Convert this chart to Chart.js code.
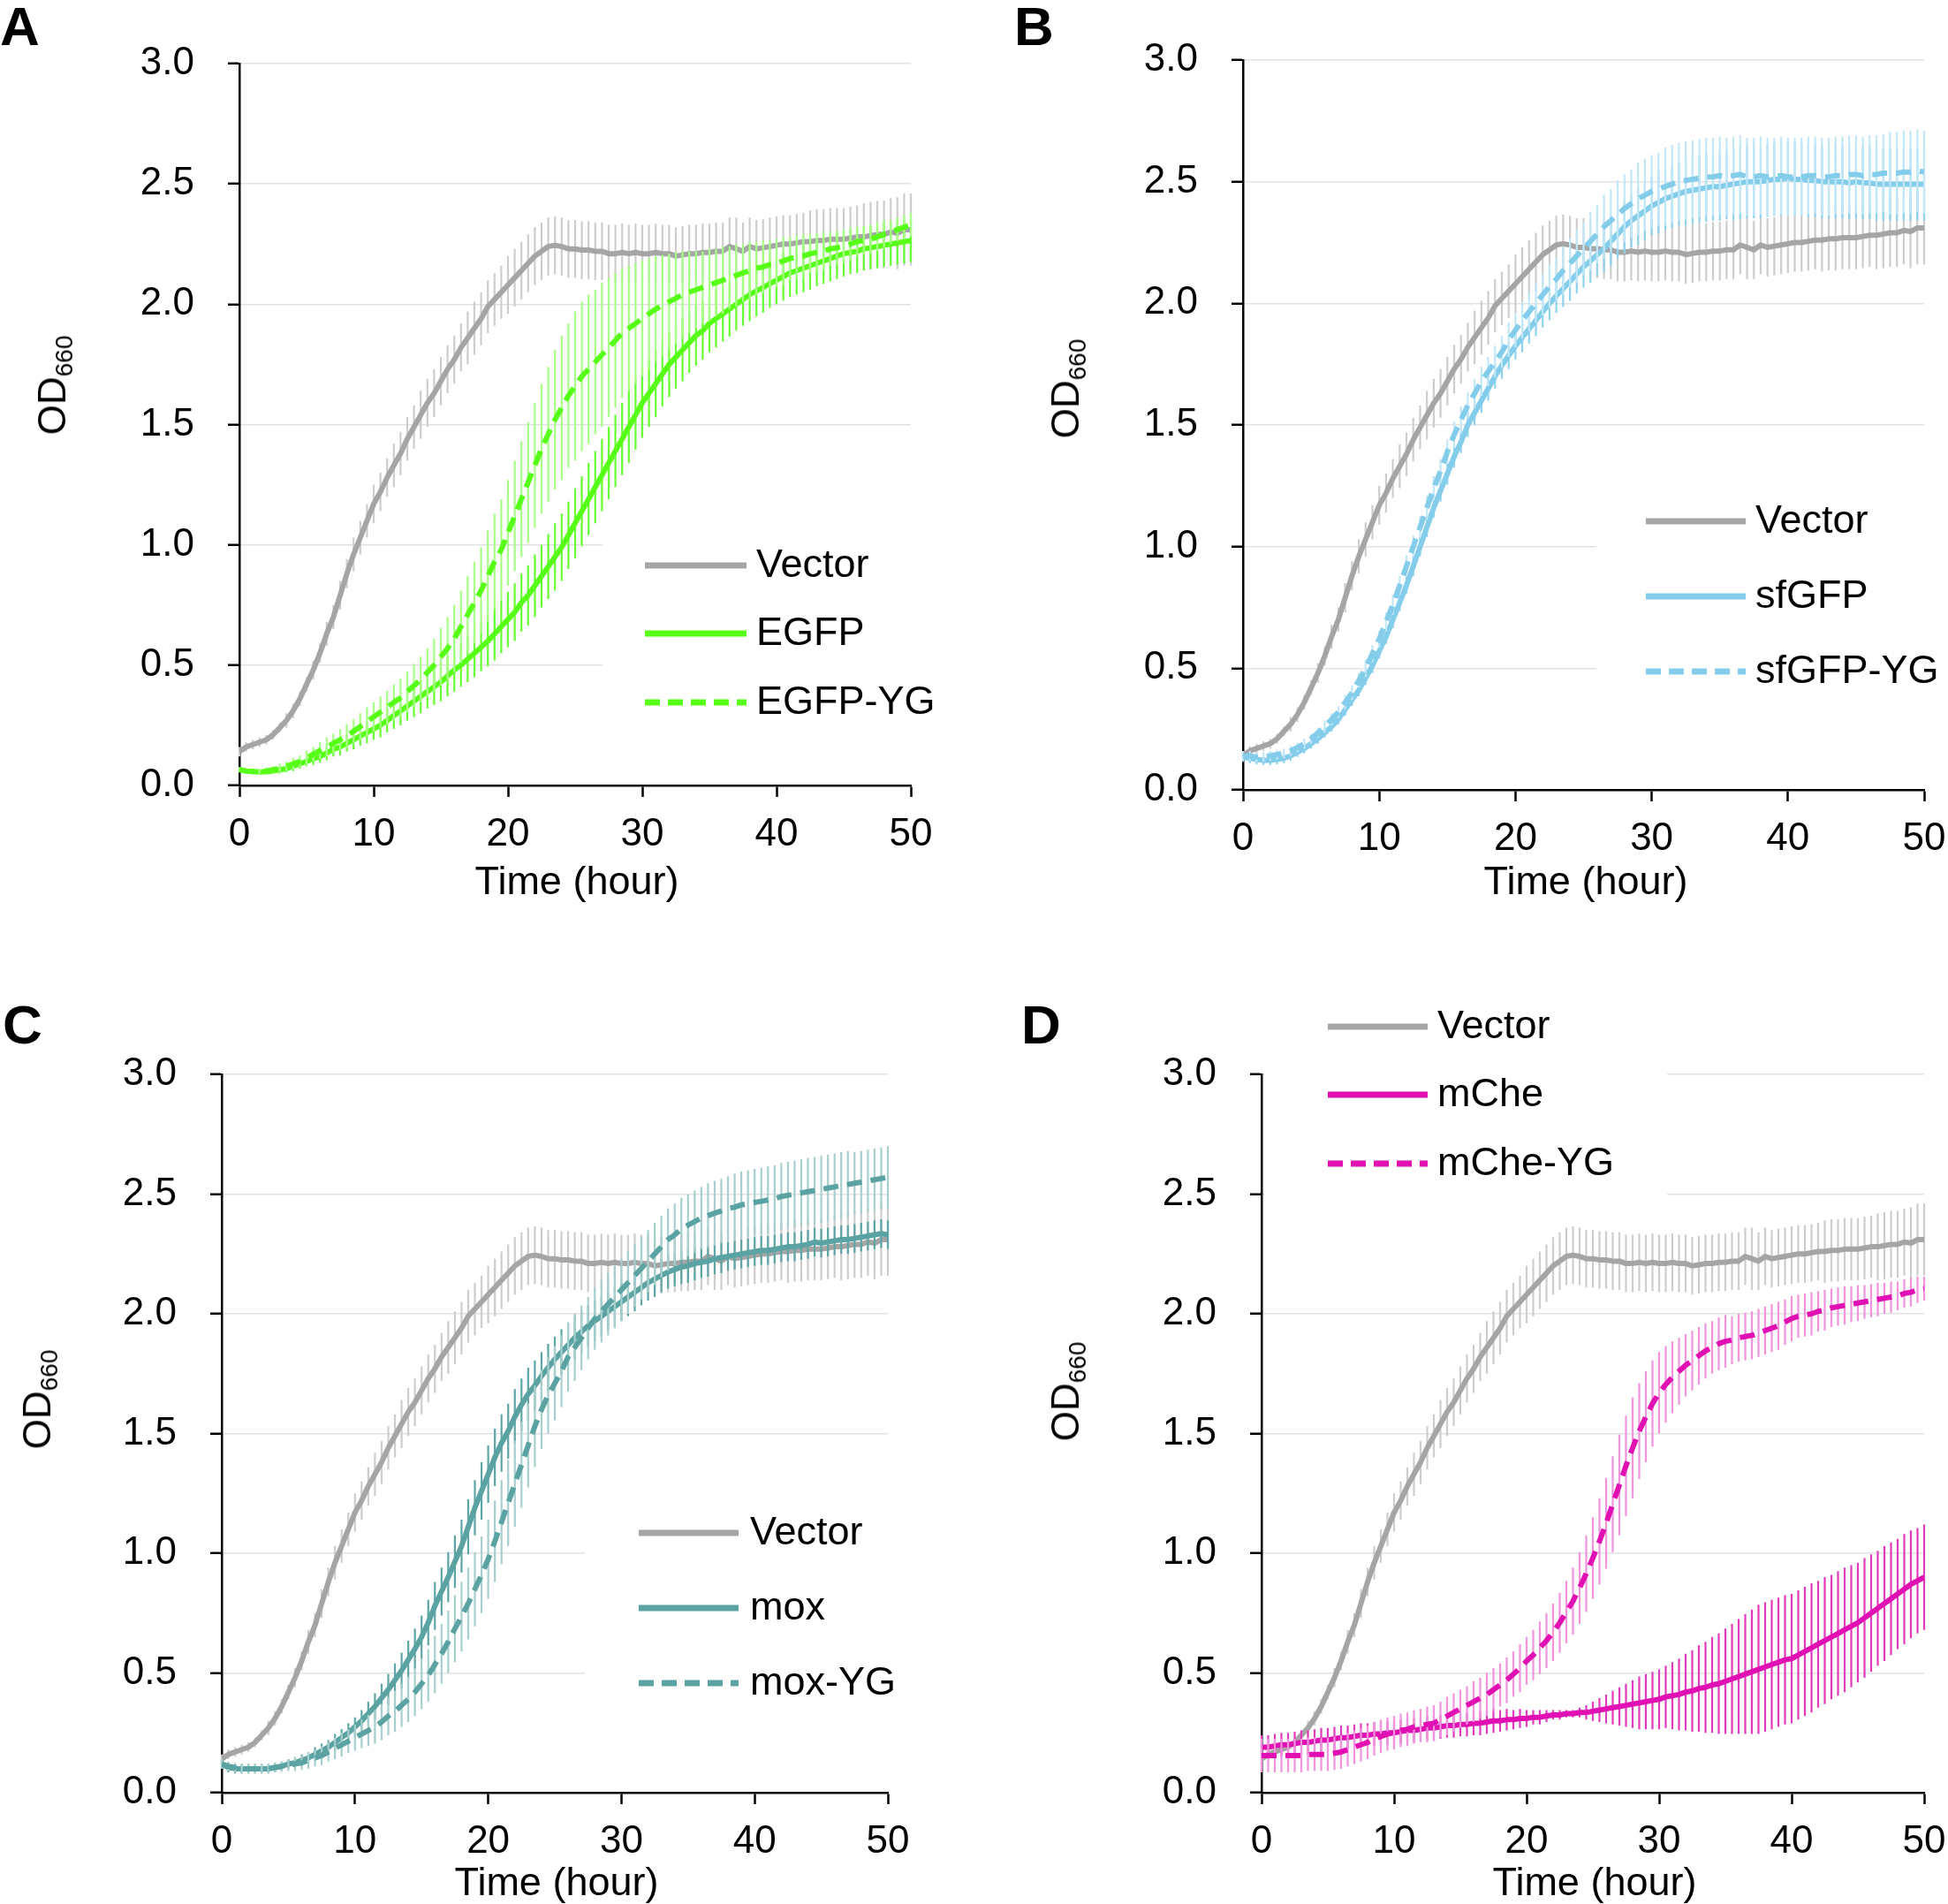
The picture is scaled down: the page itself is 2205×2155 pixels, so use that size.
<!DOCTYPE html>
<html>
<head>
<meta charset="utf-8">
<script src="https://cdn.jsdelivr.net/npm/chart.js@4.4.1/dist/chart.umd.min.js"></script>
<style>
  html, body { margin: 0; padding: 0; background: #fff; }
  body { width: 2205px; height: 2155px; position: relative; overflow: hidden; font-family: "Liberation Sans", Arial, sans-serif; color: #000; }
  canvas { position: absolute; }
  .letter { position: absolute; font-weight: bold; font-size: 62px; line-height: 1; }
  .xtitle { position: absolute; font-size: 45px; line-height: 1; transform: translate(-50%, -50%); white-space: nowrap; }
  .ytitle { position: absolute; font-size: 44px; line-height: 1; transform: translate(-50%, -50%) rotate(-90deg); white-space: nowrap; }
  .ytitle sub { font-size: 28px; vertical-align: -8px; }
</style>
</head>
<body>
<canvas id="chartA" width="1102" height="1077" style="left:0;top:0"></canvas>
<canvas id="chartB" width="1102" height="1077" style="left:1103px;top:0"></canvas>
<canvas id="chartC" width="1102" height="1077" style="left:0;top:1078px"></canvas>
<canvas id="chartD" width="1102" height="1077" style="left:1103px;top:1078px"></canvas>

<div class="letter" style="left:0;top:-1px">A</div>
<div class="letter" style="left:1148px;top:-1px">B</div>
<div class="letter" style="left:3px;top:1129px">C</div>
<div class="letter" style="left:1156px;top:1129px">D</div>

<div class="xtitle" style="left:653px;top:996px">Time (hour)</div>
<div class="xtitle" style="left:1795px;top:996px">Time (hour)</div>
<div class="xtitle" style="left:630px;top:2129px">Time (hour)</div>
<div class="xtitle" style="left:1805px;top:2129px">Time (hour)</div>

<div class="ytitle" style="left:62px;top:436px">OD<sub>660</sub></div>
<div class="ytitle" style="left:1209px;top:440px">OD<sub>660</sub></div>
<div class="ytitle" style="left:45px;top:1584px">OD<sub>660</sub></div>
<div class="ytitle" style="left:1209px;top:1575px">OD<sub>660</sub></div>

<script>
// sampling every 0.5 h, 0..50
const hours = Array.from({ length: 101 }, (_, i) => i * 0.5);

// Vector (same control in all four panels)
const vector = [
  0.14, 0.16, 0.17, 0.18, 0.19, 0.21, 0.24, 0.27, 0.31, 0.36,
  0.42, 0.48, 0.55, 0.63, 0.70, 0.79, 0.88, 0.96, 1.03, 1.10,
  1.17, 1.22, 1.28, 1.33, 1.38, 1.44, 1.49, 1.54, 1.59, 1.63,
  1.68, 1.73, 1.77, 1.82, 1.86, 1.90, 1.94, 1.99, 2.02, 2.05,
  2.08, 2.11, 2.14, 2.17, 2.20, 2.22, 2.24, 2.245, 2.24, 2.23,
  2.23, 2.225, 2.225, 2.22, 2.22, 2.21, 2.21, 2.215, 2.21, 2.215,
  2.21, 2.21, 2.215, 2.21, 2.21, 2.20, 2.205, 2.21, 2.21, 2.215,
  2.215, 2.22, 2.22, 2.24, 2.23, 2.22, 2.24, 2.23, 2.235, 2.24,
  2.245, 2.25, 2.25, 2.255, 2.26, 2.26, 2.265, 2.265, 2.27, 2.27,
  2.27, 2.275, 2.28, 2.28, 2.285, 2.29, 2.29, 2.30, 2.295, 2.31,
  2.31
];
const vectorErr = [
  0.02, 0.02, 0.02, 0.02, 0.02, 0.02, 0.02, 0.03, 0.03, 0.03,
  0.03, 0.04, 0.04, 0.05, 0.05, 0.06, 0.06, 0.07, 0.07, 0.07,
  0.08, 0.08, 0.08, 0.09, 0.09, 0.09, 0.09, 0.10, 0.10, 0.10,
  0.10, 0.10, 0.10, 0.10, 0.11, 0.11, 0.11, 0.11, 0.11, 0.11,
  0.12, 0.12, 0.12, 0.12, 0.12, 0.12, 0.12, 0.12, 0.12, 0.12,
  0.12, 0.12, 0.12, 0.12, 0.12, 0.12, 0.12, 0.12, 0.12, 0.12,
  0.12, 0.12, 0.12, 0.12, 0.12, 0.12, 0.12, 0.12, 0.12, 0.12,
  0.12, 0.12, 0.12, 0.12, 0.13, 0.12, 0.12, 0.12, 0.12, 0.12,
  0.12, 0.12, 0.12, 0.12, 0.12, 0.13, 0.13, 0.13, 0.13, 0.13,
  0.13, 0.13, 0.13, 0.14, 0.14, 0.14, 0.14, 0.14, 0.15, 0.15,
  0.15
];

// Panel A
const egfp = [
  0.065, 0.06, 0.058, 0.056, 0.057, 0.06, 0.065, 0.07, 0.08, 0.09,
  0.10, 0.11, 0.12, 0.135, 0.15, 0.16, 0.175, 0.19, 0.205, 0.22,
  0.235, 0.25, 0.27, 0.29, 0.31, 0.33, 0.35, 0.37, 0.39, 0.41,
  0.43, 0.455, 0.48, 0.50, 0.525, 0.55, 0.575, 0.60, 0.63, 0.66,
  0.69, 0.72, 0.76, 0.79, 0.83, 0.87, 0.91, 0.95, 0.99, 1.04,
  1.09, 1.14, 1.19, 1.24, 1.29, 1.34, 1.39, 1.44, 1.49, 1.54,
  1.59, 1.63, 1.67, 1.71, 1.75, 1.78, 1.81, 1.84, 1.87, 1.89,
  1.92, 1.94, 1.96, 1.98, 2.00, 2.02, 2.04, 2.055, 2.07, 2.085,
  2.10, 2.115, 2.13, 2.14, 2.15, 2.16, 2.17, 2.18, 2.19, 2.20,
  2.21, 2.215, 2.22, 2.23, 2.235, 2.24, 2.245, 2.25, 2.255, 2.26,
  2.265
];
const egfpErr = [
  0.01, 0.01, 0.01, 0.01, 0.01, 0.01, 0.015, 0.015, 0.02, 0.02,
  0.02, 0.025, 0.025, 0.03, 0.03, 0.035, 0.035, 0.04, 0.04, 0.045,
  0.045, 0.05, 0.05, 0.055, 0.06, 0.06, 0.065, 0.07, 0.07, 0.075,
  0.08, 0.085, 0.09, 0.09, 0.095, 0.10, 0.10, 0.105, 0.11, 0.11,
  0.115, 0.12, 0.12, 0.125, 0.13, 0.13, 0.135, 0.14, 0.14, 0.14,
  0.145, 0.145, 0.15, 0.15, 0.15, 0.15, 0.15, 0.15, 0.15, 0.145,
  0.145, 0.14, 0.14, 0.135, 0.135, 0.13, 0.13, 0.125, 0.125, 0.12,
  0.12, 0.12, 0.115, 0.115, 0.11, 0.11, 0.11, 0.105, 0.105, 0.10,
  0.10, 0.10, 0.10, 0.10, 0.10, 0.10, 0.095, 0.095, 0.095, 0.095,
  0.095, 0.09, 0.09, 0.09, 0.09, 0.09, 0.09, 0.09, 0.09, 0.09,
  0.09
];
const egfpYG = [
  0.065, 0.06, 0.058, 0.058, 0.06, 0.065, 0.07, 0.08, 0.09, 0.10,
  0.115, 0.13, 0.145, 0.16, 0.175, 0.19, 0.205, 0.225, 0.245, 0.265,
  0.285, 0.305, 0.325, 0.345, 0.365, 0.39, 0.415, 0.44, 0.47, 0.50,
  0.535, 0.57, 0.61, 0.66, 0.71, 0.76, 0.81, 0.87, 0.93, 0.98,
  1.05, 1.12, 1.19, 1.26, 1.33, 1.40, 1.46, 1.52, 1.57, 1.62,
  1.66, 1.70, 1.73, 1.76, 1.79, 1.82, 1.85, 1.88, 1.90, 1.92,
  1.94, 1.96, 1.98, 1.995, 2.01, 2.025, 2.04, 2.05, 2.06, 2.07,
  2.08, 2.09, 2.10, 2.11, 2.12, 2.13, 2.14, 2.15, 2.155, 2.165,
  2.17, 2.18, 2.19, 2.195, 2.20, 2.21, 2.215, 2.22, 2.23, 2.235,
  2.24, 2.25, 2.26, 2.265, 2.27, 2.28, 2.29, 2.30, 2.31, 2.32,
  2.33
];
const egfpYGErr = [
  0.01, 0.01, 0.01, 0.01, 0.015, 0.015, 0.02, 0.02, 0.025, 0.025,
  0.03, 0.03, 0.035, 0.04, 0.04, 0.045, 0.05, 0.05, 0.055, 0.06,
  0.06, 0.065, 0.07, 0.075, 0.08, 0.085, 0.09, 0.095, 0.10, 0.11,
  0.12, 0.13, 0.14, 0.15, 0.16, 0.17, 0.18, 0.19, 0.20, 0.21,
  0.22, 0.23, 0.24, 0.25, 0.26, 0.27, 0.28, 0.29, 0.30, 0.30,
  0.31, 0.31, 0.31, 0.30, 0.30, 0.29, 0.28, 0.27, 0.26, 0.25,
  0.24, 0.23, 0.22, 0.21, 0.20, 0.19, 0.18, 0.17, 0.16, 0.15,
  0.15, 0.14, 0.14, 0.13, 0.13, 0.12, 0.12, 0.11, 0.11, 0.10,
  0.10, 0.10, 0.09, 0.09, 0.09, 0.08, 0.08, 0.08, 0.07, 0.07,
  0.07, 0.07, 0.06, 0.06, 0.06, 0.06, 0.06, 0.05, 0.05, 0.05,
  0.05
];

// Panel B
const sfgfp = [
  0.135, 0.13, 0.125, 0.122, 0.122, 0.125, 0.13, 0.14, 0.155, 0.17,
  0.19, 0.21, 0.235, 0.26, 0.29, 0.33, 0.37, 0.41, 0.46, 0.51,
  0.57, 0.63, 0.70, 0.77, 0.84, 0.92, 1.00, 1.08, 1.16, 1.23,
  1.30, 1.37, 1.43, 1.50, 1.55, 1.60, 1.65, 1.70, 1.745, 1.785,
  1.825, 1.86, 1.895, 1.93, 1.965, 2.00, 2.03, 2.06, 2.09, 2.12,
  2.15, 2.175, 2.20, 2.225, 2.255, 2.285, 2.315, 2.34, 2.36, 2.38,
  2.40, 2.415, 2.43, 2.44, 2.45, 2.46, 2.465, 2.47, 2.475, 2.48,
  2.48, 2.485, 2.49, 2.495, 2.50, 2.50, 2.50, 2.505, 2.51, 2.51,
  2.515, 2.51, 2.51, 2.505, 2.505, 2.50, 2.50, 2.50, 2.50, 2.495,
  2.50, 2.495, 2.495, 2.49, 2.49, 2.49, 2.49, 2.49, 2.49, 2.49,
  2.49
];
const sfgfpErr = [
  0.02, 0.02, 0.02, 0.02, 0.02, 0.02, 0.02, 0.02, 0.02, 0.02,
  0.02, 0.02, 0.02, 0.02, 0.02, 0.025, 0.025, 0.025, 0.03, 0.03,
  0.03, 0.03, 0.035, 0.035, 0.035, 0.04, 0.04, 0.04, 0.04, 0.045,
  0.045, 0.045, 0.045, 0.05, 0.05, 0.05, 0.05, 0.05, 0.055, 0.055,
  0.055, 0.06, 0.06, 0.065, 0.065, 0.07, 0.07, 0.075, 0.08, 0.08,
  0.085, 0.09, 0.09, 0.095, 0.10, 0.10, 0.11, 0.11, 0.12, 0.12,
  0.12, 0.13, 0.13, 0.13, 0.13, 0.14, 0.14, 0.14, 0.14, 0.14,
  0.14, 0.14, 0.15, 0.15, 0.15, 0.15, 0.15, 0.15, 0.15, 0.15,
  0.15, 0.15, 0.15, 0.15, 0.15, 0.15, 0.15, 0.15, 0.15, 0.15,
  0.15, 0.15, 0.15, 0.15, 0.15, 0.15, 0.15, 0.15, 0.15, 0.15,
  0.15
];
const sfgfpYG = [
  0.14, 0.14, 0.135, 0.135, 0.14, 0.145, 0.15, 0.16, 0.175, 0.19,
  0.21, 0.235, 0.26, 0.29, 0.32, 0.36, 0.40, 0.45, 0.50, 0.56,
  0.62, 0.69, 0.76, 0.84, 0.92, 1.00, 1.08, 1.16, 1.24, 1.31,
  1.39, 1.46, 1.52, 1.58, 1.63, 1.68, 1.72, 1.76, 1.80, 1.85,
  1.89, 1.93, 1.965, 2.00, 2.035, 2.07, 2.10, 2.135, 2.165, 2.195,
  2.225, 2.255, 2.285, 2.315, 2.34, 2.365, 2.39, 2.41, 2.43, 2.445,
  2.46, 2.47, 2.48, 2.49, 2.50, 2.505, 2.51, 2.515, 2.52, 2.52,
  2.525, 2.52, 2.525, 2.53, 2.52, 2.52, 2.525, 2.52, 2.52, 2.525,
  2.52, 2.52, 2.52, 2.525, 2.525, 2.52, 2.52, 2.525, 2.525, 2.53,
  2.53, 2.525, 2.53, 2.53, 2.535, 2.535, 2.535, 2.54, 2.54, 2.545,
  2.54
];
const sfgfpYGErr = [
  0.02, 0.02, 0.02, 0.02, 0.02, 0.02, 0.02, 0.02, 0.02, 0.02,
  0.02, 0.02, 0.025, 0.025, 0.025, 0.03, 0.03, 0.03, 0.035, 0.035,
  0.035, 0.04, 0.04, 0.04, 0.045, 0.045, 0.045, 0.05, 0.05, 0.05,
  0.05, 0.055, 0.055, 0.055, 0.06, 0.06, 0.06, 0.065, 0.065, 0.07,
  0.07, 0.075, 0.08, 0.08, 0.085, 0.09, 0.09, 0.10, 0.10, 0.11,
  0.11, 0.12, 0.12, 0.13, 0.13, 0.14, 0.14, 0.14, 0.15, 0.15,
  0.15, 0.15, 0.16, 0.16, 0.16, 0.16, 0.16, 0.16, 0.16, 0.16,
  0.16, 0.16, 0.16, 0.16, 0.16, 0.16, 0.16, 0.16, 0.16, 0.16,
  0.16, 0.16, 0.16, 0.16, 0.16, 0.16, 0.16, 0.16, 0.16, 0.16,
  0.16, 0.16, 0.16, 0.16, 0.16, 0.17, 0.17, 0.17, 0.17, 0.17,
  0.17
];

// Panel C
const mox = [
  0.12, 0.105, 0.10, 0.10, 0.10, 0.10, 0.10, 0.10, 0.105, 0.11,
  0.12, 0.125, 0.135, 0.145, 0.16, 0.175, 0.19, 0.21, 0.23, 0.25,
  0.275, 0.30, 0.33, 0.36, 0.395, 0.43, 0.47, 0.51, 0.555, 0.60,
  0.65, 0.71, 0.78, 0.84, 0.90, 0.965, 1.03, 1.11, 1.19, 1.26,
  1.33, 1.40, 1.46, 1.51, 1.57, 1.62, 1.665, 1.70, 1.74, 1.775,
  1.81, 1.84, 1.87, 1.90, 1.925, 1.95, 1.97, 1.99, 2.01, 2.03,
  2.05, 2.07, 2.09, 2.11, 2.13, 2.145, 2.16, 2.175, 2.185, 2.195,
  2.20, 2.21, 2.215, 2.22, 2.23, 2.235, 2.24, 2.245, 2.25, 2.255,
  2.26, 2.265, 2.265, 2.27, 2.275, 2.28, 2.28, 2.285, 2.29, 2.30,
  2.295, 2.30, 2.305, 2.31, 2.31, 2.315, 2.32, 2.325, 2.33, 2.335,
  2.33
];
const moxErr = [
  0.02, 0.02, 0.02, 0.02, 0.02, 0.02, 0.02, 0.02, 0.02, 0.02,
  0.02, 0.02, 0.025, 0.025, 0.03, 0.03, 0.03, 0.035, 0.035, 0.04,
  0.04, 0.045, 0.05, 0.055, 0.06, 0.065, 0.07, 0.075, 0.08, 0.085,
  0.09, 0.095, 0.10, 0.10, 0.105, 0.11, 0.11, 0.115, 0.115, 0.12,
  0.12, 0.12, 0.12, 0.115, 0.115, 0.11, 0.11, 0.105, 0.10, 0.10,
  0.095, 0.095, 0.09, 0.09, 0.09, 0.085, 0.085, 0.085, 0.08, 0.08,
  0.08, 0.08, 0.08, 0.075, 0.075, 0.075, 0.07, 0.07, 0.07, 0.07,
  0.07, 0.07, 0.065, 0.065, 0.065, 0.065, 0.06, 0.06, 0.06, 0.06,
  0.06, 0.06, 0.06, 0.06, 0.06, 0.06, 0.06, 0.06, 0.06, 0.06,
  0.06, 0.06, 0.06, 0.06, 0.06, 0.06, 0.06, 0.06, 0.06, 0.06,
  0.06
];
const moxYG = [
  0.12, 0.11, 0.105, 0.10, 0.10, 0.10, 0.10, 0.10, 0.105, 0.11,
  0.115, 0.12, 0.125, 0.135, 0.145, 0.155, 0.17, 0.185, 0.20, 0.215,
  0.23, 0.245, 0.26, 0.275, 0.295, 0.32, 0.34, 0.365, 0.39, 0.42,
  0.455, 0.49, 0.535, 0.58, 0.63, 0.685, 0.735, 0.79, 0.85, 0.91,
  0.975, 1.05, 1.13, 1.21, 1.29, 1.37, 1.45, 1.53, 1.60, 1.66,
  1.71, 1.76, 1.82, 1.86, 1.90, 1.94, 1.98, 2.01, 2.04, 2.07,
  2.10, 2.13, 2.16, 2.19, 2.22, 2.25, 2.28, 2.31, 2.33, 2.355,
  2.37, 2.385, 2.40, 2.41, 2.42, 2.43, 2.44, 2.445, 2.455, 2.46,
  2.465, 2.47, 2.475, 2.48, 2.49, 2.495, 2.50, 2.505, 2.51, 2.515,
  2.52, 2.525, 2.53, 2.535, 2.54, 2.545, 2.55, 2.555, 2.56, 2.565,
  2.57
];
const moxYGErr = [
  0.02, 0.02, 0.02, 0.02, 0.02, 0.02, 0.02, 0.02, 0.02, 0.02,
  0.025, 0.03, 0.03, 0.035, 0.035, 0.04, 0.04, 0.045, 0.05, 0.05,
  0.055, 0.06, 0.065, 0.07, 0.075, 0.08, 0.085, 0.09, 0.095, 0.10,
  0.105, 0.11, 0.12, 0.125, 0.13, 0.14, 0.145, 0.15, 0.155, 0.16,
  0.165, 0.17, 0.175, 0.18, 0.18, 0.18, 0.175, 0.17, 0.165, 0.16,
  0.155, 0.15, 0.145, 0.14, 0.135, 0.13, 0.13, 0.13, 0.13, 0.13,
  0.13, 0.13, 0.13, 0.13, 0.13, 0.13, 0.13, 0.13, 0.13, 0.13,
  0.13, 0.13, 0.13, 0.135, 0.135, 0.135, 0.135, 0.14, 0.14, 0.14,
  0.14, 0.14, 0.14, 0.14, 0.14, 0.14, 0.14, 0.14, 0.14, 0.14,
  0.14, 0.14, 0.14, 0.14, 0.14, 0.13, 0.13, 0.13, 0.13, 0.13,
  0.13
];

// Panel D
const mche = [
  0.19, 0.19, 0.195, 0.20, 0.20, 0.205, 0.21, 0.21, 0.215, 0.22,
  0.22, 0.225, 0.23, 0.23, 0.235, 0.24, 0.24, 0.245, 0.245, 0.25,
  0.25, 0.255, 0.26, 0.26, 0.265, 0.27, 0.27, 0.275, 0.28, 0.28,
  0.285, 0.285, 0.29, 0.29, 0.295, 0.30, 0.30, 0.305, 0.305, 0.31,
  0.31, 0.315, 0.315, 0.32, 0.325, 0.325, 0.33, 0.33, 0.335, 0.335,
  0.34, 0.345, 0.35, 0.355, 0.36, 0.365, 0.37, 0.375, 0.38, 0.385,
  0.39, 0.40, 0.405, 0.41, 0.42, 0.425, 0.435, 0.44, 0.45, 0.455,
  0.465, 0.475, 0.485, 0.495, 0.505, 0.515, 0.525, 0.535, 0.545, 0.555,
  0.56, 0.575, 0.59, 0.605, 0.62, 0.635, 0.65, 0.665, 0.68, 0.695,
  0.71, 0.73, 0.75, 0.77, 0.79, 0.81, 0.83, 0.85, 0.87, 0.885,
  0.90
];
const mcheErr = [
  0.05, 0.05, 0.05, 0.05, 0.05, 0.05, 0.05, 0.05, 0.05, 0.05,
  0.05, 0.05, 0.05, 0.05, 0.05, 0.05, 0.05, 0.05, 0.05, 0.05,
  0.05, 0.05, 0.05, 0.05, 0.05, 0.05, 0.05, 0.05, 0.05, 0.05,
  0.05, 0.05, 0.05, 0.05, 0.05, 0.05, 0.045, 0.045, 0.04, 0.04,
  0.035, 0.03, 0.03, 0.025, 0.02, 0.02, 0.015, 0.015, 0.02, 0.03,
  0.04, 0.05, 0.06, 0.07, 0.08, 0.09, 0.10, 0.11, 0.115, 0.12,
  0.125, 0.13, 0.14, 0.15, 0.16, 0.17, 0.18, 0.19, 0.20, 0.21,
  0.22, 0.23, 0.24, 0.25, 0.26, 0.27, 0.27, 0.27, 0.27, 0.27,
  0.27, 0.27, 0.27, 0.27, 0.265, 0.265, 0.26, 0.26, 0.26, 0.255,
  0.25, 0.25, 0.245, 0.24, 0.24, 0.235, 0.23, 0.23, 0.225, 0.22,
  0.22
];
const mcheYG = [
  0.155, 0.155, 0.155, 0.155, 0.155, 0.155, 0.155, 0.16, 0.16, 0.16,
  0.16, 0.165, 0.17, 0.18, 0.19, 0.20, 0.21, 0.225, 0.235, 0.245,
  0.25, 0.26, 0.265, 0.275, 0.28, 0.285, 0.29, 0.305, 0.32, 0.335,
  0.35, 0.365, 0.38, 0.395, 0.41, 0.43, 0.45, 0.47, 0.495, 0.52,
  0.55, 0.575, 0.605, 0.635, 0.67, 0.71, 0.755, 0.80, 0.855, 0.915,
  0.98, 1.05, 1.125, 1.205, 1.285, 1.365, 1.44, 1.51, 1.57, 1.625,
  1.67, 1.705, 1.735, 1.76, 1.785, 1.805, 1.825, 1.845, 1.86, 1.875,
  1.885, 1.89, 1.90, 1.905, 1.91, 1.92, 1.93, 1.94, 1.95, 1.965,
  1.98, 1.99, 1.995, 2.00, 2.01, 2.015, 2.025, 2.03, 2.035, 2.04,
  2.045, 2.05, 2.055, 2.06, 2.065, 2.07, 2.075, 2.085, 2.09, 2.10,
  2.105
];
const mcheYGErr = [
  0.07, 0.07, 0.07, 0.07, 0.07, 0.07, 0.07, 0.07, 0.07, 0.07,
  0.07, 0.07, 0.07, 0.07, 0.07, 0.07, 0.07, 0.07, 0.07, 0.07,
  0.07, 0.07, 0.07, 0.07, 0.07, 0.075, 0.075, 0.075, 0.08, 0.08,
  0.08, 0.08, 0.085, 0.085, 0.09, 0.09, 0.09, 0.095, 0.095, 0.10,
  0.10, 0.105, 0.11, 0.115, 0.12, 0.125, 0.13, 0.14, 0.15, 0.16,
  0.17, 0.18, 0.19, 0.20, 0.21, 0.21, 0.21, 0.20, 0.19, 0.18,
  0.17, 0.16, 0.15, 0.14, 0.13, 0.125, 0.12, 0.115, 0.11, 0.11,
  0.11, 0.10, 0.10, 0.10, 0.10, 0.10, 0.10, 0.10, 0.10, 0.095,
  0.095, 0.09, 0.09, 0.09, 0.085, 0.085, 0.08, 0.08, 0.08, 0.075,
  0.075, 0.07, 0.07, 0.07, 0.065, 0.065, 0.06, 0.06, 0.06, 0.055,
  0.05
];

const FONT = '"Liberation Sans", Arial, sans-serif';

const grayLine = '#a5a5a5', grayBar = '#cdcdcd';

// error bars drawn under each line, through the chart's own scales
const errorBars = {
  id: 'errorBars',
  beforeDatasetDraw(chart, args) {
    const ds = chart.data.datasets[args.index];
    if (!ds.errors) return;
    const xs = chart.scales.x, ys = chart.scales.y;
    const ctx = chart.ctx;
    ctx.save();
    ctx.strokeStyle = ds.barColor;
    ctx.lineWidth = 2.2;
    ctx.beginPath();
    ds.data.forEach((p, i) => {
      const px = xs.getPixelForValue(p.x);
      ctx.moveTo(px, ys.getPixelForValue(p.y - ds.errors[i]));
      ctx.lineTo(px, ys.getPixelForValue(p.y + ds.errors[i]));
    });
    ctx.stroke();
    ctx.restore();
  }
};

// legend with long line samples, placed like the original
const plotLegend = {
  id: 'plotLegend',
  beforeDatasetsDraw(chart, args, opts) {
    const [bx, by, bw, bh] = opts.box;
    const ctx = chart.ctx;
    ctx.save();
    ctx.fillStyle = '#fff';
    ctx.fillRect(bx, by, bw, bh);
    ctx.restore();
  },
  afterDraw(chart, args, opts) {
    const ctx = chart.ctx;
    ctx.save();
    chart.data.datasets.forEach((ds, i) => {
      const y = opts.rowY[i];
      ctx.strokeStyle = ds.borderColor;
      ctx.lineWidth = 7;
      ctx.setLineDash(ds.borderDash.length ? [17, 9] : []);
      ctx.beginPath();
      ctx.moveTo(opts.lineX[0], y);
      ctx.lineTo(opts.lineX[1], y);
      ctx.stroke();
      ctx.setLineDash([]);
      ctx.fillStyle = '#000';
      ctx.font = '45px ' + FONT;
      ctx.textBaseline = 'middle';
      ctx.fillText(ds.label, opts.textX, y + 1);
    });
    ctx.restore();
  }
};

function makeDataset(label, values, errors, color, barColor, dashed, order) {
  return {
    label: label,
    data: values.map((v, i) => ({ x: hours[i], y: v })),
    errors: errors,
    barColor: barColor,
    borderColor: color,
    backgroundColor: color,
    borderWidth: 6,
    borderDash: dashed ? [17, 10] : [],
    borderJoinStyle: 'round',
    pointRadius: 0,
    tension: 0,
    fill: false,
    order: order
  };
}

function renderPanel(canvasId, layout, datasets) {
  const ctx = document.getElementById(canvasId).getContext('2d');
  new Chart(ctx, {
    type: 'line',
    data: { datasets: datasets },
    plugins: [errorBars, plotLegend],
    options: {
      responsive: false,
      animation: false,
      devicePixelRatio: 1,
      layout: { padding: { left: 0, top: layout.top, right: layout.right, bottom: 0 } },
      plugins: {
        legend: { display: false },
        tooltip: { enabled: false },
        plotLegend: layout.legend
      },
      scales: {
        x: {
          type: 'linear',
          min: 0,
          max: 50,
          ticks: { stepSize: 10, maxRotation: 0, padding: 16, color: '#000', font: { family: FONT, size: 44 } },
          grid: { drawOnChartArea: false, tickLength: 13, tickColor: '#000', tickWidth: 2.5 },
          border: { color: '#000', width: 2.5 },
          afterFit: s => { s.height = layout.xHeight; s.paddingLeft = 0; s.paddingRight = 0; }
        },
        y: {
          min: 0,
          max: 3,
          ticks: { stepSize: 0.5, padding: 38, color: '#000', font: { family: FONT, size: 44 },
                   callback: v => v.toFixed(1) },
          grid: { color: c => (c.tick && c.tick.value === 0) ? 'rgba(0,0,0,0)' : '#e2e2e2',
                  lineWidth: 1.5, tickLength: 13, tickColor: '#000', tickWidth: 2.5 },
          border: { color: '#000', width: 2.5 },
          afterFit: s => { s.width = layout.yWidth; }
        }
      }
    }
  });
}

renderPanel('chartA',
  { top: 72, right: 71, yWidth: 271, xHeight: 188,
    legend: { box: [682, 570, 353, 270], lineX: [730, 845], textX: 856, rowY: [640, 717, 795] } },
  [
    makeDataset('Vector', vector, vectorErr, grayLine, grayBar, false, 3),
    makeDataset('EGFP', egfp, egfpErr, '#57ff17', '#66ff33', false, 2),
    makeDataset('EGFP-YG', egfpYG, egfpYGErr, '#57ff17', '#a8ff86', true, 1)
  ]);

renderPanel('chartB',
  { top: 68, right: 27, yWidth: 304, xHeight: 183,
    legend: { box: [704, 530, 373, 270], lineX: [760, 873], textX: 884, rowY: [590, 675, 760] } },
  [
    makeDataset('Vector', vector, vectorErr, grayLine, grayBar, false, 3),
    makeDataset('sfGFP', sfgfp, sfgfpErr, '#84cdea', '#8fd3ef', false, 2),
    makeDataset('sfGFP-YG', sfgfpYG, sfgfpYGErr, '#84cdea', '#c2e7f7', true, 1)
  ]);

renderPanel('chartC',
  { top: 138, right: 97, yWidth: 251, xHeight: 126,
    legend: { box: [662, 602, 343, 280], lineX: [723, 836], textX: 849, rowY: [657, 742, 827] } },
  [
    makeDataset('Vector', vector, vectorErr, grayLine, grayBar, false, 3),
    makeDataset('mox', mox, moxErr, '#5ba3a2', '#5ea6a5', false, 2),
    makeDataset('mox-YG', moxYG, moxYGErr, '#5ba3a2', '#a6cfce', true, 1)
  ]);

renderPanel('chartD',
  { top: 138, right: 27, yWidth: 325, xHeight: 126,
    legend: { box: [328, 22, 456, 320], lineX: [400, 513], textX: 524, rowY: [84, 161, 239] } },
  [
    makeDataset('Vector', vector, vectorErr, grayLine, grayBar, false, 3),
    makeDataset('mChe', mche, mcheErr, '#e010b3', '#e23abf', false, 2),
    makeDataset('mChe-YG', mcheYG, mcheYGErr, '#e010b3', '#f193dd', true, 1)
  ]);
</script>
</body>
</html>
